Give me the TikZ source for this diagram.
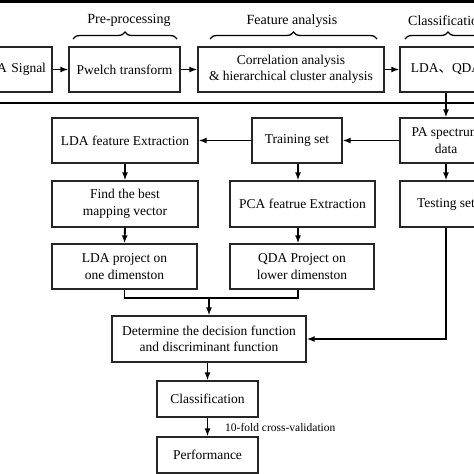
\documentclass[tikz,border=0pt]{standalone}
\usepackage{fontspec}
\setmainfont{Liberation Serif}
\newfontfamily\cjkfont{Noto Sans CJK SC}
\usetikzlibrary{arrows.meta,decorations.pathreplacing,calc}
\begin{document}
\begin{tikzpicture}[x=1pt,y=-1pt,
  box/.style={draw=black!85,line width=1.3pt,inner sep=2pt,align=center,
    font=\fontsize{13.5}{16.5}\selectfont},
  conn/.style={line width=1.9pt,draw=black},
  arr/.style={conn,-{Latex[length=8pt,width=6pt]}},
  hdr/.style={font=\fontsize{14}{16}\selectfont,inner sep=0pt},
  brc/.style={decorate,decoration={brace,amplitude=7pt},line width=1.3pt},
  frame/.style={line width=2.8pt},
  lbl/.style={font=\fontsize{11.5}{13}\selectfont,inner sep=0pt}]
\useasboundingbox (0,0) rectangle (474,474);

% outer frame of the top row
\draw[frame] (-20,1.5) rectangle (500,103);

% headings and braces
\node[hdr] (h1) at (129,20) {Pre-processing};
\node[hdr] (h2) at (292,21) {Feature analysis};
\node[hdr,anchor=west] (h3) at (408,21) {Classification};
\draw[brc] (73,39) -- (177,39);
\draw[brc] (210,39) -- (377,39);
\draw[brc] (405,39) -- (491,39);

% top row
\node[box,minimum width=112pt,minimum height=45pt,text width=100pt,align=right] (sig) at (-4,69.5) {A Signal};
\node[box,minimum width=111pt,minimum height=45pt] (pw) at (124.5,69.5) {Pwelch transform};
\node[box,minimum width=186pt,minimum height=45pt] (corr) at (291,69.5) {Correlation analysis\\\& hierarchical cluster analysis};
\node[box,minimum width=92pt,minimum height=45pt] (lq) at (446,69.5) {LDA{\cjkfont 、}QDA};

% second row
\node[box,minimum width=146pt,minimum height=45pt] (lfe) at (125,140.5) {LDA feature Extraction};
\node[box,minimum width=90pt,minimum height=45pt] (ts) at (297,140.5) {Training set};
\node[box,minimum width=92pt,minimum height=45pt] (pa) at (446,140.5) {PA spectrum\\data};

% third row
\node[box,minimum width=146pt,minimum height=46pt] (fb) at (125,204) {Find the best\\mapping vector};
\node[box,minimum width=145pt,minimum height=46pt] (pca) at (302.5,204) {PCA featrue Extraction};
\node[box,minimum width=92pt,minimum height=46pt] (test) at (446,204) {Testing set};

% fourth row
\node[box,minimum width=145pt,minimum height=45pt] (lp) at (124.5,266.5) {LDA project on\\one dimenston};
\node[box,minimum width=144pt,minimum height=45pt] (qp) at (302,266.5) {QDA Project on\\lower dimenston};

% bottom
\node[box,minimum width=194pt,minimum height=46pt] (det) at (209,339) {Determine the decision function\\and discriminant function};
\node[box,minimum width=101pt,minimum height=36pt] (cls) at (207.5,399) {Classification};
\node[box,minimum width=101pt,minimum height=36pt] (perf) at (207.5,455) {Performance};

\coordinate (m) at (209,298);
\coordinate (tc) at (446,339);

% connectors, top row
\draw[arr] (sig.east) -- (pw.west);
\draw[arr] (pw.east) -- (corr.west);
\draw[arr] (corr.east) -- (lq.west);
\draw[arr] (lq.south) -- (pa.north);

% second row
\draw[arr] (pa.west) -- (ts.west -| ts.east);
\draw[arr] (ts.west) -- (lfe.east);

% vertical arrows
\draw[arr] (lfe.south) -- (fb.north);
\draw[arr] (fb.south) -- (lp.north);
\draw[arr] ([xshift=1pt]ts.south) -- ([xshift=1pt]ts.south |- pca.north);
\draw[arr] ([xshift=1pt]ts.south |- pca.south) -- ([xshift=1pt]ts.south |- qp.north);
\draw[arr] (pa.south) -- (test.north);

% merging
\draw[conn] (lp.south) -- (lp.south |- m) -- ([xshift=1pt]ts.south |- m) -- ([xshift=1pt]ts.south |- qp.south);
\draw[arr] (m) -- (det.north);
\draw[arr] (test.south) -- (tc) -- (det.east);

% bottom arrows
\draw[arr] (det.south -| cls.north) -- (cls.north);
\draw[arr] (cls.south) -- (perf.north);
\node[lbl,anchor=west] (cv) at (225,427.5) {10-fold cross-validation};
\end{tikzpicture}
\end{document}
